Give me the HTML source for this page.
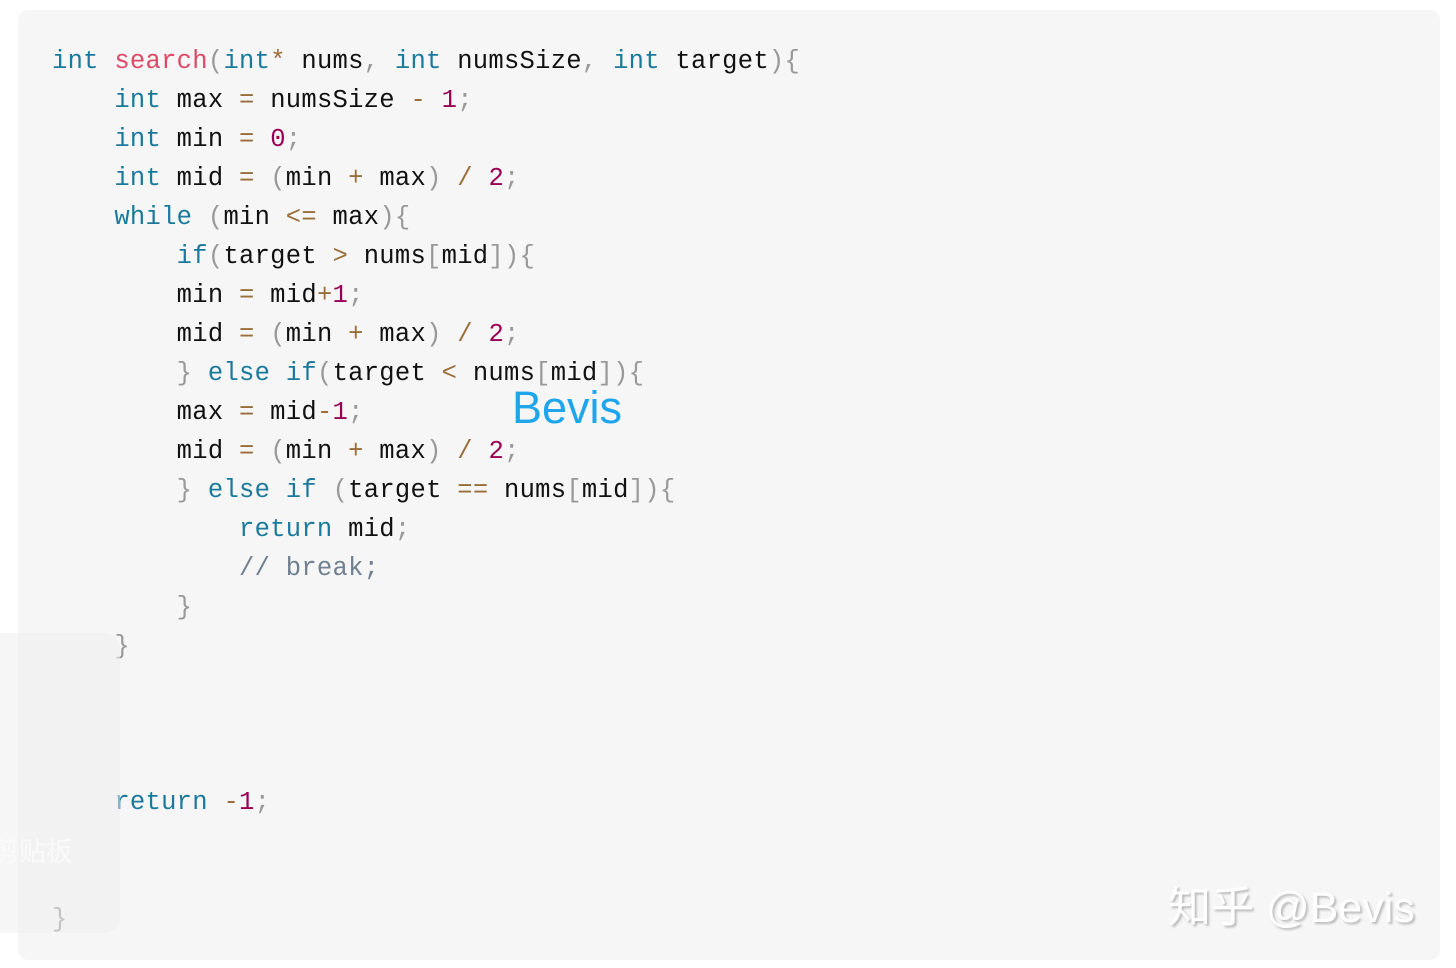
<!DOCTYPE html>
<html><head><meta charset="utf-8"><style>
html,body{margin:0;padding:0;background:#fff;width:1456px;height:968px;overflow:hidden;position:relative}
.card{position:absolute;left:18px;top:10px;width:1422px;height:950px;background:#f6f6f6;border-radius:10px}
.code{position:absolute;left:52px;top:42px;font-family:"Liberation Mono","DejaVu Sans Mono",monospace;font-size:25.5px;letter-spacing:0.28px;line-height:39px;color:#111;white-space:pre;margin:0}
.k{color:#1b7a9c}.f{color:#dd4a68}.p{color:#999}.o{color:#9a6e3a}.n{color:#990055}.c{color:#708090}
.bevis{position:absolute;left:512px;top:382px;font-family:"Liberation Sans",sans-serif;font-size:45px;color:#1ea5ec;line-height:52px}
.wm{position:absolute;left:1168px;top:882px;font-family:"Liberation Sans","Noto Sans CJK SC",sans-serif;font-size:43px;color:#fff;text-shadow:2px 2px 2px #bbb;line-height:52px}
.ov{position:absolute;left:0;top:633px;width:120px;height:300px;background:rgba(238,238,238,0.5);border-radius:0 16px 16px 0}
.ovt{position:absolute;left:-8px;top:830px;font-family:"Noto Sans CJK SC",sans-serif;font-size:27px;color:#fafafa}
</style></head><body>
<div class="card"></div>
<pre class="code"><span class="k">int</span> <span class="f">search</span><span class="p">(</span><span class="k">int</span><span class="o">*</span> nums<span class="p">,</span> <span class="k">int</span> numsSize<span class="p">,</span> <span class="k">int</span> target<span class="p">){</span>
    <span class="k">int</span> max <span class="o">=</span> numsSize <span class="o">-</span> <span class="n">1</span><span class="p">;</span>
    <span class="k">int</span> min <span class="o">=</span> <span class="n">0</span><span class="p">;</span>
    <span class="k">int</span> mid <span class="o">=</span> <span class="p">(</span>min <span class="o">+</span> max<span class="p">)</span> <span class="o">/</span> <span class="n">2</span><span class="p">;</span>
    <span class="k">while</span> <span class="p">(</span>min <span class="o">&lt;=</span> max<span class="p">){</span>
        <span class="k">if</span><span class="p">(</span>target <span class="o">&gt;</span> nums<span class="p">[</span>mid<span class="p">]){</span>
        min <span class="o">=</span> mid<span class="o">+</span><span class="n">1</span><span class="p">;</span>
        mid <span class="o">=</span> <span class="p">(</span>min <span class="o">+</span> max<span class="p">)</span> <span class="o">/</span> <span class="n">2</span><span class="p">;</span>
        <span class="p">}</span> <span class="k">else</span> <span class="k">if</span><span class="p">(</span>target <span class="o">&lt;</span> nums<span class="p">[</span>mid<span class="p">]){</span>
        max <span class="o">=</span> mid<span class="o">-</span><span class="n">1</span><span class="p">;</span>
        mid <span class="o">=</span> <span class="p">(</span>min <span class="o">+</span> max<span class="p">)</span> <span class="o">/</span> <span class="n">2</span><span class="p">;</span>
        <span class="p">}</span> <span class="k">else</span> <span class="k">if</span> <span class="p">(</span>target <span class="o">==</span> nums<span class="p">[</span>mid<span class="p">]){</span>
            <span class="k">return</span> mid<span class="p">;</span>
            <span class="c">// break;</span>
        <span class="p">}</span>
    <span class="p">}</span>



    <span class="k">return</span> <span class="o">-</span><span class="n">1</span><span class="p">;</span>


<span class="p">}</span></pre>
<div class="bevis">Bevis</div>
<div class="ov"></div>
<div class="ovt">剪贴板</div>
<div class="wm">知乎 @Bevis</div>
</body></html>
